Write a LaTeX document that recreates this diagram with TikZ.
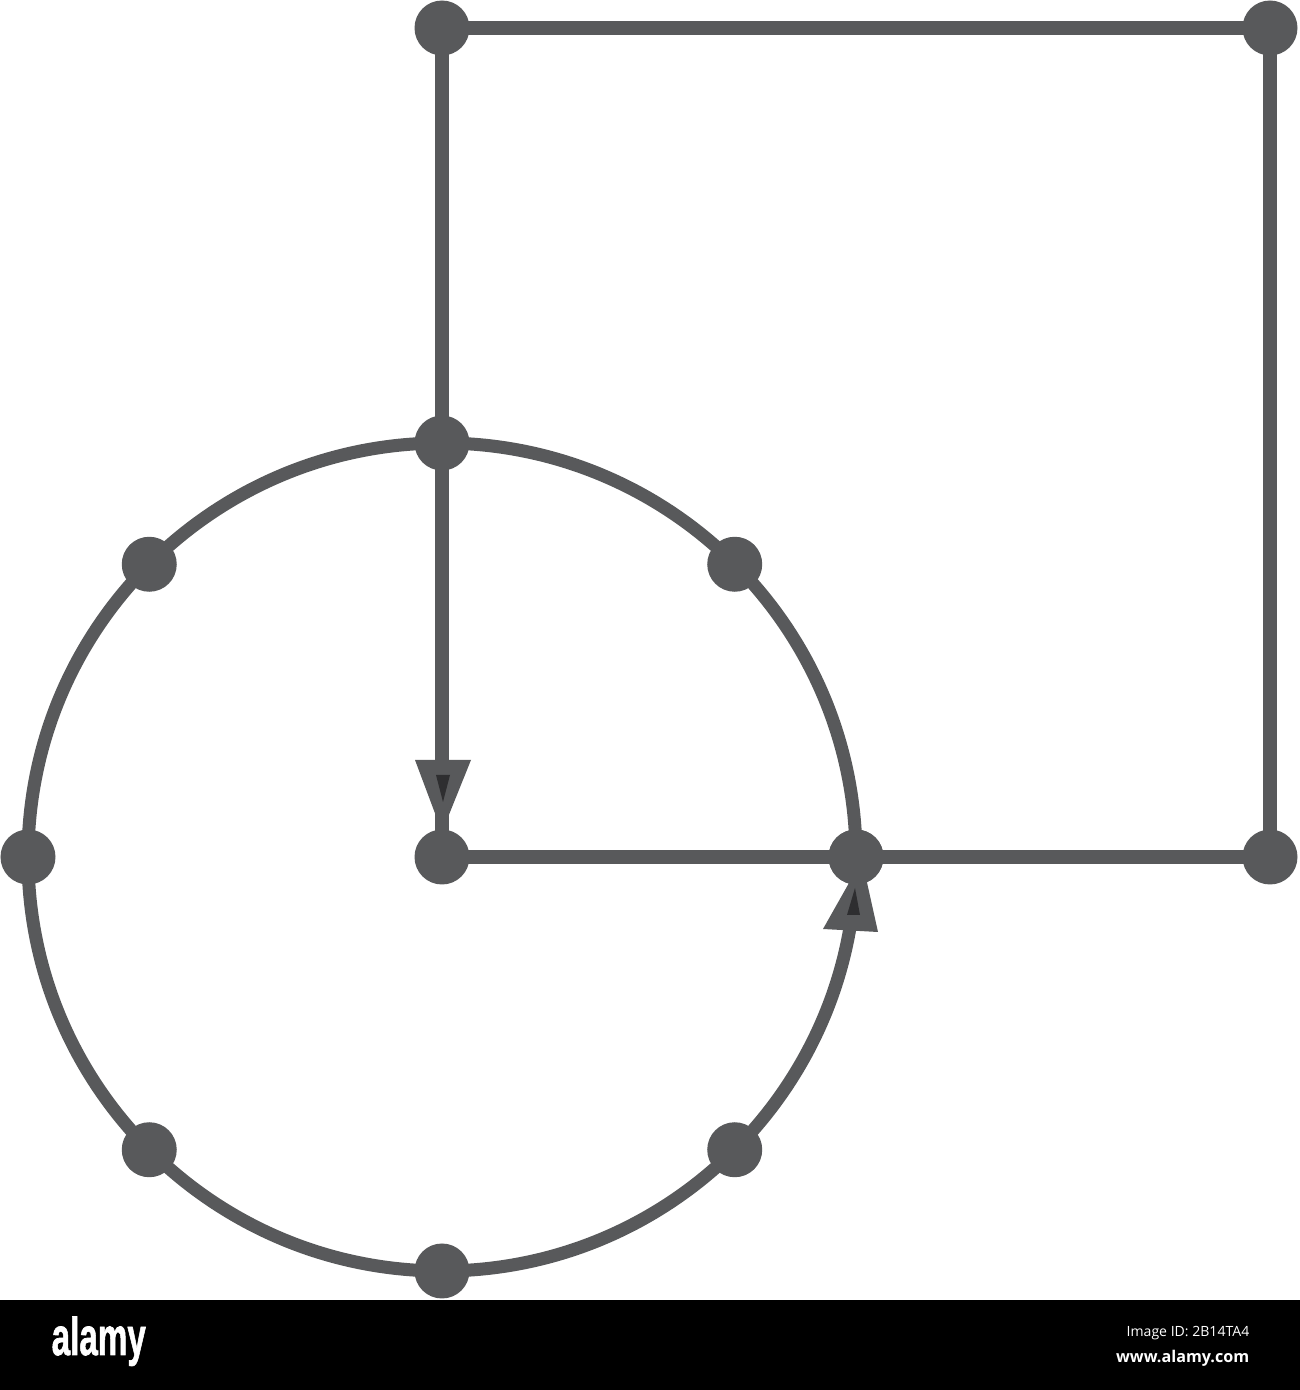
\documentclass[tikz,border=0pt]{standalone}
\usepackage{fontspec}
\setmainfont{Open Sans}
\newfontfamily\logofont[FakeBold=1.5]{Liberation Sans}
\definecolor{ink}{HTML}{58595B}
\definecolor{inkdark}{HTML}{2E2E30}
\begin{document}
\begin{tikzpicture}[x=1cm,y=1cm,
  line/.style={draw=ink, line width=3.7pt, line join=round},
  dot/.style={circle, fill=ink, inner sep=0pt, minimum size=0.55cm},
  headouter/.style={fill=ink},
  headinner/.style={fill=inkdark}]
\useasboundingbox (0,0) rectangle (13,13.9);
% watermark bar
\fill[black] (0,0) rectangle (13,0.9);
\node[anchor=base west, inner sep=0pt, text=white] (logo) at (0.51,0.35)
  {\scalebox{0.7}[1.12]{\logofont\bfseries\fontsize{13.5pt}{13.5pt}\selectfont alamy}};
\node[anchor=base east, inner sep=0pt, text=white] (imgid) at (12.50,0.53)
  {\fontsize{4pt}{4pt}\selectfont Image ID: 2B14TA4};
\node[anchor=base east, inner sep=0pt, text=white] (www) at (12.50,0.28)
  {\fontsize{4.6pt}{4.6pt}\selectfont\bfseries www.alamy.com};
% geometry
\coordinate (c) at (4.42,5.33);
\draw[line] (c) circle (4.14);
\node[dot] (cn) at (c) {};
\foreach \a in {0,45,...,315}
  \node[dot] (p\a) at ([shift={(c)}]\a:4.14) {};
\node[dot] (tl) at (4.42,13.62) {};
\node[dot] (tr) at (12.70,13.62) {};
\node[dot] (br) at (12.70,5.33) {};
\draw[line] (tl.center) -- (tr.center) -- (br.center) -- (p0.center) -- (cn.center) -- (p90.center) -- (tl.center);
% arrowhead on the vertical radius
\fill[headouter] (4.15,6.30) -- (4.71,6.30) -- (4.42,5.58) -- cycle;
\fill[headinner] (4.36,6.15) -- (4.50,6.15) -- (4.43,5.88) -- cycle;
% arrowhead on the arc
\fill[headouter] (8.23,4.61) -- (8.78,4.58) -- (8.62,5.30) -- cycle;
\fill[headinner] (8.47,4.75) -- (8.60,4.75) -- (8.55,5.02) -- cycle;
\node[dot] at (p0) {};
\end{tikzpicture}
\end{document}
